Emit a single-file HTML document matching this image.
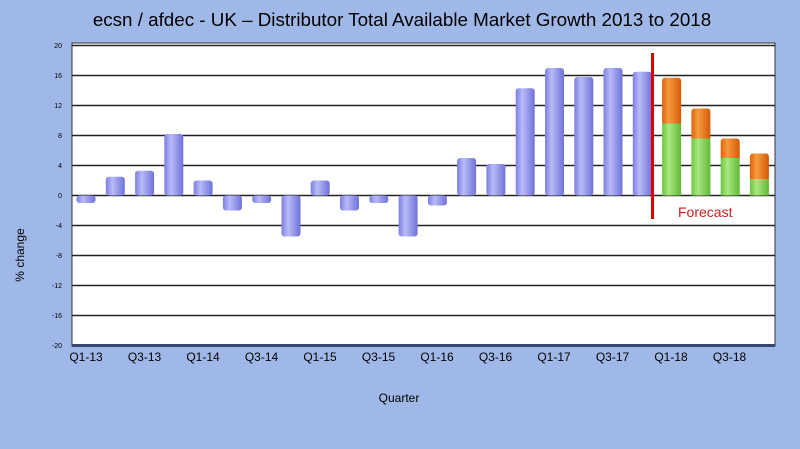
<!DOCTYPE html>
<html><head><meta charset="utf-8"><style>
body{margin:0;background:#a0b8e8;}
svg{display:block;font-family:"Liberation Sans",sans-serif;}
</style></head><body>
<svg width="800" height="449" viewBox="0 0 800 449">
<defs>
<linearGradient id="b" x1="0" x2="1"><stop offset="0" stop-color="#7b7fe0"/><stop offset="0.35" stop-color="#b8bbf8"/><stop offset="1" stop-color="#6e72d8"/></linearGradient>
<linearGradient id="g" x1="0" x2="1"><stop offset="0" stop-color="#6cc640"/><stop offset="0.35" stop-color="#a8e880"/><stop offset="1" stop-color="#62b836"/></linearGradient>
<linearGradient id="o" x1="0" x2="1"><stop offset="0" stop-color="#e0650a"/><stop offset="0.35" stop-color="#f59a40"/><stop offset="1" stop-color="#d45a05"/></linearGradient>
</defs>
<rect width="800" height="449" fill="#a0b8e8"/>
<text x="402" y="26" font-size="18.8" text-anchor="middle" fill="#000">ecsn / afdec - UK – Distributor Total Available Market Growth 2013 to 2018</text>
<rect x="72" y="43" width="703" height="303" fill="#fff" stroke="#333" stroke-width="1"/>
<g stroke="#222" stroke-width="1.5">
<line x1="72" y1="45.5" x2="775" y2="45.5"/><line x1="72" y1="75.5" x2="775" y2="75.5"/><line x1="72" y1="105.5" x2="775" y2="105.5"/><line x1="72" y1="135.5" x2="775" y2="135.5"/><line x1="72" y1="165.5" x2="775" y2="165.5"/><line x1="72" y1="195.5" x2="775" y2="195.5"/><line x1="72" y1="225.5" x2="775" y2="225.5"/><line x1="72" y1="255.5" x2="775" y2="255.5"/><line x1="72" y1="285.5" x2="775" y2="285.5"/><line x1="72" y1="315.5" x2="775" y2="315.5"/><line x1="72" y1="345.5" x2="775" y2="345.5"/>
</g>
<rect x="72" y="344" width="703" height="3" fill="#34486e"/>
<g font-size="7" fill="#000" text-anchor="end">
<text x="62" y="48">20</text><text x="62" y="78">16</text><text x="62" y="108">12</text><text x="62" y="138">8</text><text x="62" y="168">4</text><text x="62" y="198">0</text><text x="62" y="228">-4</text><text x="62" y="258">-8</text><text x="62" y="288">-12</text><text x="62" y="318">-16</text><text x="62" y="348">-20</text>
</g>
<g fill="url(#b)">
<rect x="76.5" y="195.5" width="19" height="7.5" rx="3"/>
<rect x="105.8" y="176.8" width="19" height="18.7" rx="3"/>
<rect x="135.1" y="170.8" width="19" height="24.7" rx="3"/>
<rect x="164.3" y="134" width="19" height="61.5" rx="3"/>
<rect x="193.6" y="180.5" width="19" height="15" rx="3"/>
<rect x="222.9" y="195.5" width="19" height="15" rx="3"/>
<rect x="252.2" y="195.5" width="19" height="7.5" rx="3"/>
<rect x="281.5" y="195.5" width="19" height="41" rx="3"/>
<rect x="310.7" y="180.5" width="19" height="15" rx="3"/>
<rect x="340" y="195.5" width="19" height="15" rx="3"/>
<rect x="369.3" y="195.5" width="19" height="7.5" rx="3"/>
<rect x="398.6" y="195.5" width="19" height="41" rx="3"/>
<rect x="427.9" y="195.5" width="19" height="10" rx="3"/>
<rect x="457.1" y="158" width="19" height="37.5" rx="3"/>
<rect x="486.4" y="164" width="19" height="31.5" rx="3"/>
<rect x="515.7" y="88.2" width="19" height="107.3" rx="3"/>
<rect x="545" y="68" width="19" height="127.5" rx="3"/>
<rect x="574.3" y="77" width="19" height="118.5" rx="3"/>
<rect x="603.5" y="68" width="19" height="127.5" rx="3"/>
<rect x="632.8" y="71.8" width="19" height="123.7" rx="3"/>
</g>
<rect x="662.1" y="77.7" width="19" height="48" rx="3" fill="url(#o)"/>
<rect x="662.1" y="123.5" width="19" height="72" fill="url(#g)"/>
<rect x="691.4" y="108.5" width="19" height="32" rx="3" fill="url(#o)"/>
<rect x="691.4" y="138.5" width="19" height="57" fill="url(#g)"/>
<rect x="720.7" y="138.5" width="19" height="21.5" rx="3" fill="url(#o)"/>
<rect x="720.7" y="158" width="19" height="37.5" fill="url(#g)"/>
<rect x="749.9" y="153.5" width="19" height="27.5" rx="3" fill="url(#o)"/>
<rect x="749.9" y="179" width="19" height="16.5" fill="url(#g)"/>
<line x1="652.5" y1="53" x2="652.5" y2="219" stroke="#e00000" stroke-width="3"/>
<text x="678" y="217" font-size="14" fill="#c82020">Forecast</text>
<g font-size="12" fill="#000" text-anchor="middle">
<text x="86" y="361">Q1-13</text><text x="144.5" y="361">Q3-13</text><text x="203" y="361">Q1-14</text><text x="261.5" y="361">Q3-14</text><text x="320" y="361">Q1-15</text><text x="378.5" y="361">Q3-15</text><text x="437" y="361">Q1-16</text><text x="495.5" y="361">Q3-16</text><text x="554" y="361">Q1-17</text><text x="612.5" y="361">Q3-17</text><text x="671" y="361">Q1-18</text><text x="729.5" y="361">Q3-18</text>
</g>
<text x="399" y="402" font-size="12" text-anchor="middle">Quarter</text>
<text transform="translate(24,255) rotate(-90)" font-size="12" text-anchor="middle">% change</text>
</svg>
</body></html>
